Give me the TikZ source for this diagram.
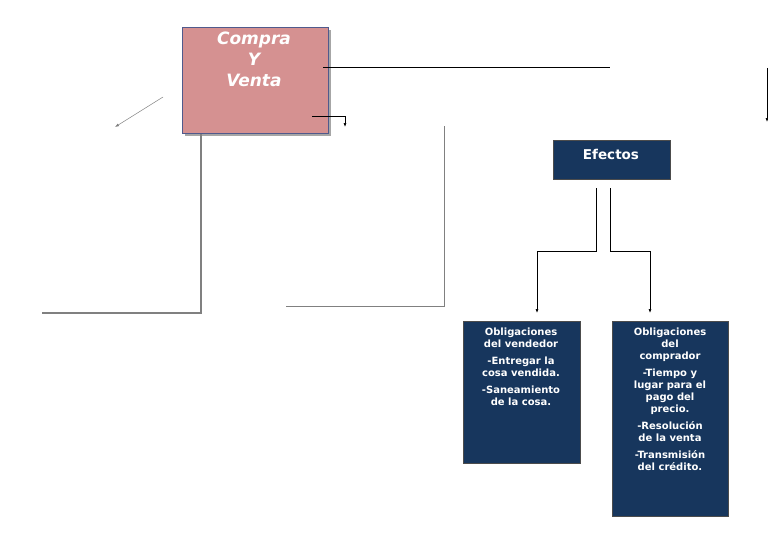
\documentclass[tikz,border=0pt]{standalone}
\usepackage{fontspec}
\setmainfont{DejaVu Sans}
\usetikzlibrary{arrows.meta}
\definecolor{navy}{RGB}{23,54,93}
\definecolor{rose}{RGB}{213,145,145}
\definecolor{edge}{RGB}{80,90,140}
\begin{document}
\begin{tikzpicture}[x=1pt,y=-1pt,
  dark/.style={draw=black!70,fill=navy,text=white,font=\bfseries\fontsize{10.5}{12.5}\selectfont,align=center,inner sep=2pt},
  ln/.style={draw=black,line width=0.6pt},
  gl/.style={draw=gray,line width=1.4pt},
  ar/.style={ln,-{Latex[length=4pt,width=3pt]}}]
\useasboundingbox (0,0) rectangle (768,543);
\fill[gray!70] (185,30) rectangle (331,136);
\node[draw=edge,fill=rose,minimum width=146pt,minimum height=106pt,anchor=north west,inner sep=0pt] (cv) at (182,27) {};
\node[text=white,font=\bfseries\itshape\fontsize{17}{21}\selectfont,align=center,anchor=north] (cvt) at (254,28) {Compra\\Y\\Venta};
\node[dark,minimum width=117pt,minimum height=39pt,anchor=north west,font=\bfseries\fontsize{14}{16}\selectfont,anchor=north west] (ef) at (553,140) {};
\node[text=white,font=\bfseries\fontsize{13.5}{16}\selectfont] (eft) at (611,154) {Efectos};
\node[dark,minimum width=117pt,minimum height=142pt,anchor=north west] (ov) at (463,321) {};
\node[text=white,font=\bfseries\fontsize{10}{12}\selectfont,align=center,anchor=north] (ovt) at (521,324) {Obligaciones\\del vendedor\\[5pt]-Entregar la\\cosa vendida.\\[5pt]-Saneamiento\\de la cosa.};
\node[dark,minimum width=116pt,minimum height=195pt,anchor=north west] (oc) at (612,321) {};
\node[text=white,font=\bfseries\fontsize{10}{12}\selectfont,align=center,anchor=north] (oct) at (670,324) {Obligaciones\\del\\comprador\\[5pt]-Tiempo y\\lugar para el\\pago del\\precio.\\[5pt]-Resolución\\de la venta\\[5pt]-Transmisión\\del crédito.};
\coordinate (a1) at (323,67); \coordinate (a2) at (610,67);
\draw[ln] (a1) -- (a2);
\coordinate (b1) at (312,116); \coordinate (b2) at (345,127);
\draw[ar] (b1) -| (b2);
\coordinate (c1) at (163,97); \coordinate (c2) at (115,127);
\draw[draw=gray,line width=0.5pt,-{Latex[length=4pt,width=3pt]}] (c1) -- (c2);
\coordinate (d1) at (201,134); \coordinate (d2) at (42,313);
\draw[gl] (d1) |- (d2);
\coordinate (e1) at (444,126); \coordinate (e2) at (286,306);
\draw[draw=gray,line width=1pt] (e1) |- (e2);
\coordinate (f1) at (767,68); \coordinate (f2) at (767,122);
\draw[ar] (f1) -- (f2);
\coordinate (g1) at (596,188); \coordinate (g2) at (596,251); \coordinate (g3) at (537,251);
\draw[ar] (g1) -- (g2) -- (g3) -- (537,313);
\coordinate (h1) at (610,188); \coordinate (h2) at (610,251); \coordinate (h3) at (650,251);
\draw[ar] (h1) -- (h2) -- (h3) -- (650,313);
\end{tikzpicture}
\end{document}
